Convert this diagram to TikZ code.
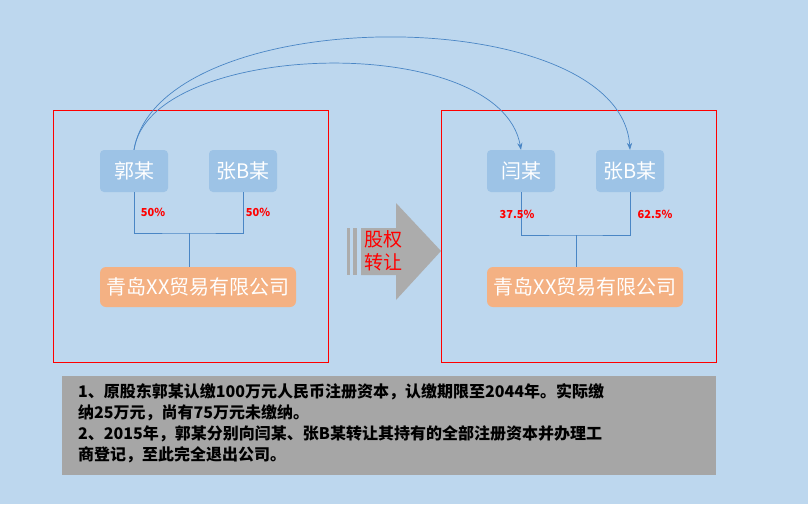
\documentclass[tikz,border=0pt]{standalone}
\usepackage{fontspec}
\newfontfamily\cjk{Noto Sans CJK SC}
\usetikzlibrary{arrows.meta}
\definecolor{bg}{HTML}{BDD7EE}
\definecolor{pbox}{HTML}{9DC3E6}
\definecolor{org}{HTML}{F4B183}
\definecolor{ln}{HTML}{4A86C5}
\begin{document}
\begin{tikzpicture}[x=1pt,y=-1pt,font=\cjk,
  person/.style={fill=pbox,rounded corners=4pt,minimum width=68pt,minimum height=42pt,text=white,font=\cjk\fontsize{20}{20}\selectfont},
  company/.style={fill=org,rounded corners=6pt,minimum width=196pt,minimum height=40pt,text=white,font=\cjk\fontsize{20}{20}\selectfont},
  pct/.style={text=red,font=\cjk\bfseries\fontsize{11}{11}\selectfont},
  conn/.style={draw=ln,line width=0.7pt},
  frame/.style={draw=red,line width=0.6pt}]
\fill[bg] (0,0) rectangle (808,504);
\useasboundingbox (0,0) rectangle (808,504);
\draw[frame] (53,110) rectangle (328,362);
\draw[frame] (441,110) rectangle (716,362);
\node[person] (g) at (134,171) {郭某};
\node[person] (z1) at (243,171) {张B某};
\node[company] (c1) at (198,287) {青岛XX贸易有限公司};
\node[person] (y) at (521,171) {闫某};
\node[person] (z2) at (630,171) {张B某};
\node[company] (c2) at (585,287) {青岛XX贸易有限公司};
\coordinate (m1) at (189,233);
\coordinate (m2) at (576,235);
\draw[conn] (g.south) |- (m1) -| (z1.south);
\draw[conn] (m1) -- (m1 |- c1.north);
\draw[conn] (y.south) |- (m2) -| (z2.south);
\draw[conn] (m2) -- (m2 |- c2.north);
\node[pct] at (153,212) {50\%};
\node[pct] at (258,212) {50\%};
\node[pct] at (517,214) {37.5\%};
\node[pct] at (655,214) {62.5\%};
\draw[conn,-{Stealth[length=7pt]}] (g.north) .. controls (150,40) and (500,30) .. (y.north);
\draw[conn,-{Stealth[length=7pt]}] (g.north) .. controls (160,0) and (620,0) .. (z2.north);
\fill[gray!65] (347,228) rectangle (350,275);
\fill[gray!65] (353,228) rectangle (357,275);
\fill[gray!65] (361,228) -- (396,228) -- (396,203) -- (441,251) -- (396,300) -- (396,275) -- (361,275) -- cycle;
\node[text=red,align=center,font=\cjk\fontsize{19}{23}\selectfont] (t) at (383,251) {股权\\转让};
\fill[gray!70] (62,376) rectangle (716,475);
\node[anchor=north west,align=left,font=\cjk\bfseries\fontsize{16}{21}\selectfont,inner sep=0pt] (note) at (78,383)
{1、原股东郭某认缴100万元人民币注册资本，认缴期限至2044年。实际缴\\
纳25万元，尚有75万元未缴纳。\\
2、2015年，郭某分别向闫某、张B某转让其持有的全部注册资本并办理工\\
商登记，至此完全退出公司。};
\end{tikzpicture}
\end{document}
